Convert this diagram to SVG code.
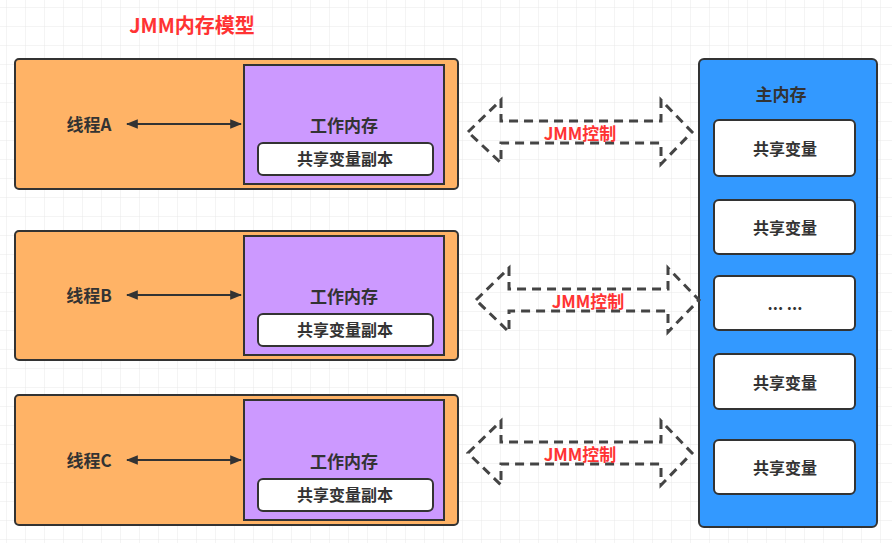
<svg xmlns="http://www.w3.org/2000/svg" width="892" height="543" viewBox="0 0 892 543">
<style>
text{font-family:"Noto Sans CJK SC","Liberation Sans",sans-serif;font-weight:bold;text-anchor:middle;fill:#333}
.th{fill:#ffb366;stroke:#333;stroke-width:2}
.wm{fill:#cc99ff;stroke:#333;stroke-width:2}
.wb{fill:#fff;stroke:#333;stroke-width:2}
.fat{fill:none;stroke:#444;stroke-width:3;stroke-dasharray:9 6}
.red{fill:#ff3333}
.ln{stroke:#333;stroke-width:2;marker-start:url(#a);marker-end:url(#a)}
</style>
<defs>
<pattern id="g" width="19" height="19" patternUnits="userSpaceOnUse" x="7" y="8"><path d="M19 0V19H0" fill="none" stroke="#e8e8e8" stroke-width="1"/></pattern>
<marker id="a" viewBox="0 0 10 10" refX="9" refY="5" markerWidth="6" markerHeight="6" orient="auto-start-reverse"><path d="M0 1L10 5L0 9z" fill="#333"/></marker>
</defs>
<rect width="892" height="543" fill="#fff"/>
<rect width="892" height="543" fill="url(#g)"/>
<text x="192" y="33" class="red" font-size="20">JMM内存模型</text>
<g id="threadA"><rect class="th" x="15" y="59" width="443" height="130" rx="4"/><rect class="wm" x="244" y="65" width="200" height="119"/><rect class="wb" x="258" y="143" width="175" height="32" rx="5"/><text x="89" y="131" font-size="17">线程A</text><text x="344" y="132" font-size="17">工作内存</text><text x="345" y="165" font-size="16">共享变量副本</text><line class="ln" x1="127" y1="124" x2="241" y2="124"/></g>
<g id="threadB"><rect class="th" x="15" y="231" width="443" height="129" rx="4"/><rect class="wm" x="244" y="236" width="200" height="119"/><rect class="wb" x="258" y="314" width="175" height="32" rx="5"/><text x="89" y="302" font-size="17">线程B</text><text x="344" y="303" font-size="17">工作内存</text><text x="345" y="336" font-size="16">共享变量副本</text><line class="ln" x1="127" y1="295" x2="241" y2="295"/></g>
<g id="threadC"><rect class="th" x="15" y="395" width="443" height="130" rx="4"/><rect class="wm" x="244" y="400" width="200" height="120"/><rect class="wb" x="258" y="479" width="175" height="32" rx="5"/><text x="89" y="467" font-size="17">线程C</text><text x="344" y="468" font-size="17">工作内存</text><text x="345" y="501" font-size="16">共享变量副本</text><line class="ln" x1="127" y1="460" x2="241" y2="460"/></g>
<g id="mainMem"><rect x="699" y="59" width="178" height="468" rx="5" fill="#3399ff" stroke="#333" stroke-width="2"/><text x="781" y="101" font-size="17">主内存</text>
<rect class="wb" x="714" y="120" width="141" height="56" rx="5"/><text x="785" y="155" font-size="16">共享变量</text>
<rect class="wb" x="714" y="200" width="141" height="54" rx="5"/><text x="785" y="234" font-size="16">共享变量</text>
<rect class="wb" x="714" y="276" width="141" height="54" rx="5"/><text x="785" y="310" font-size="16">... ...</text>
<rect class="wb" x="714" y="354" width="141" height="55" rx="5"/><text x="785" y="389" font-size="16">共享变量</text>
<rect class="wb" x="714" y="440" width="141" height="54" rx="5"/><text x="785" y="474" font-size="16">共享变量</text></g>
<g id="connectors">
<path class="fat" d="M468 132L501 100V121H661V100L692 132L661 164V143H501V163Z"/>
<text x="580" y="140" class="red" font-size="17">JMM控制</text>
<path class="fat" d="M476 300L509 268V289H668V268L699 300L668 332V311H509V332Z"/>
<text x="588" y="308" class="red" font-size="17">JMM控制</text>
<path class="fat" d="M468 453L501 421V442H661V421L692 453L661 485V464H501V485Z"/>
<text x="580" y="461" class="red" font-size="17">JMM控制</text>
</g>
</svg>
